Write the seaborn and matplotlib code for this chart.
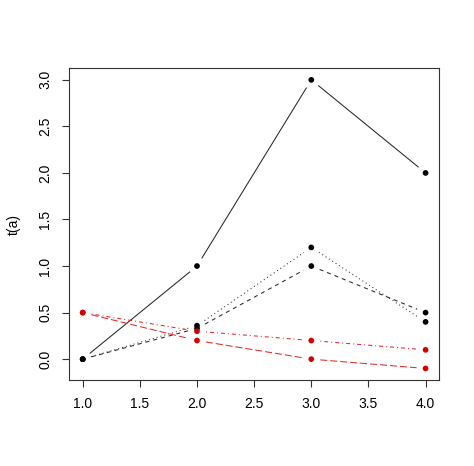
import matplotlib
matplotlib.use("Agg")
import matplotlib.pyplot as plt
import numpy as np
import pandas as pd
import seaborn as sns

# values
a_vals = [1, 2, 3, 4]
t_solid = [0.0, 1.0, 3.0, 2.0]
t_dotted = [0.0, 0.36, 1.2, 0.4]
t_dashed = [0.0, 0.33, 1.0, 0.5]
t_red_dash = [0.5, 0.2, 0.0, -0.1]
t_red_dashdot = [0.5, 0.3, 0.2, 0.1]

x_ticks = [1.0, 1.5, 2.0, 2.5, 3.0, 3.5, 4.0]
y_ticks = [0.0, 0.5, 1.0, 1.5, 2.0, 2.5, 3.0]

sns.set_theme(style="ticks")
plt.rcParams['font.family'] = ['Liberation Sans', 'DejaVu Sans']
plt.rcParams['lines.scale_dashes'] = False

px = 0.72  # one pixel in points at dpi 100
series = {
    'solid': (t_solid, '#262626', '-'),
    'dotted': (t_dotted, '#262626', (0, (1*px, 3*px))),
    'dashed': (t_dashed, '#262626', (0, (4*px, 4*px))),
    'red_dash': (t_red_dash, '#e62a2a', (0, (7*px, 3*px))),
    'red_dashdot': (t_red_dashdot, '#e62a2a', (0, (1*px, 3*px, 4*px, 3*px))),
}

fig = plt.figure(figsize=(4.74, 4.66), dpi=100)
ax = fig.add_axes([69/474, 1-380/466, (439.3-69)/474, (380-68.3)/466])
ax.set_xlim(0.88, 4.12)
ax.set_ylim(-0.224, 3.124)

# lines with a gap round each point (R type = "b")
gap = 9
for name, (vals, col, ls) in series.items():
    pts = ax.transData.transform(np.column_stack([a_vals, vals]))
    for p0, p1 in zip(pts[:-1], pts[1:]):
        d = p1 - p0
        u = d / np.hypot(*d)
        q = ax.transData.inverted().transform(np.array([p0 + u*gap, p1 - u*gap]))
        ax.plot(q[:, 0], q[:, 1], color=col, lw=0.75, linestyle=ls,
                solid_capstyle='butt', dash_capstyle='butt')

rows = []
for name, (vals, col, ls) in series.items():
    for x, y in zip(a_vals, vals):
        rows.append({'a': x, 't': y, 'series': name})
df = pd.DataFrame(rows)
pt_colors = {'solid': 'black', 'dotted': 'black', 'dashed': 'black',
             'red_dash': '#d40000', 'red_dashdot': '#d40000'}
sns.scatterplot(data=df, x='a', y='t', hue='series', palette=pt_colors,
                s=17, edgecolor='none', legend=False, ax=ax, zorder=5)
ax.set_xlim(0.88, 4.12)
ax.set_ylim(-0.224, 3.124)

ax.set_xticks(x_ticks)
ax.set_xticklabels(['%.1f' % v for v in x_ticks])
ax.set_yticks(y_ticks)
ax.set_yticklabels(['%.1f' % v for v in y_ticks], rotation=90, va='center')
ax.set_xlabel('')
ax.set_ylabel('t(a)', fontsize=10, color='black')
ax.yaxis.set_label_coords(-0.13, 0.5)

for s in ax.spines.values():
    s.set_visible(True)
    s.set_color('#333333')
    s.set_linewidth(0.8)
ax.tick_params(axis='both', direction='out', length=5, width=0.8,
               color='#333333', labelsize=10, labelcolor='black', pad=7)

fig.savefig('out.png', dpi=100)
